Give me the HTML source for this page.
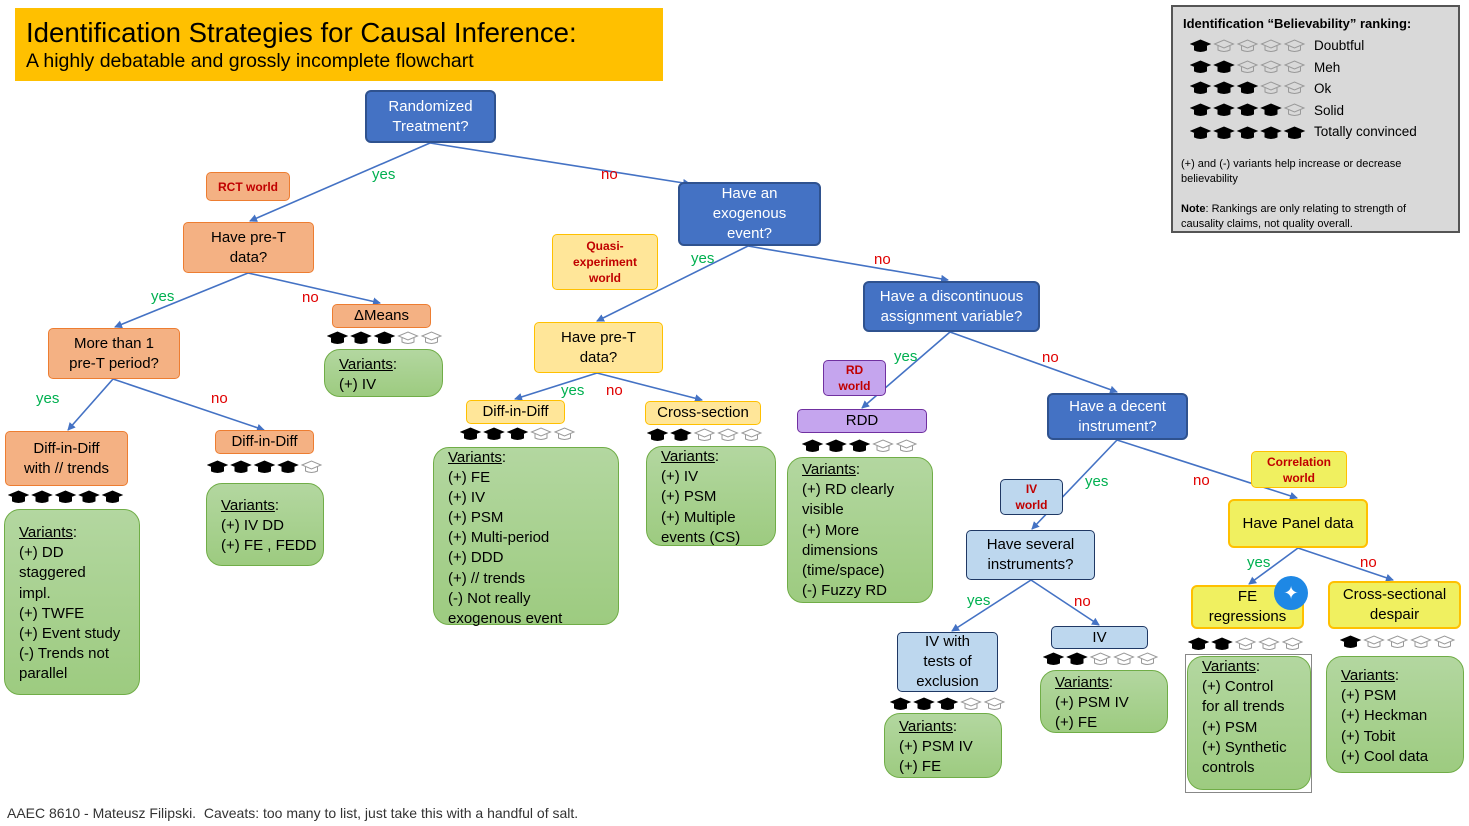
<!DOCTYPE html>
<html><head><meta charset="utf-8">
<style>
body{margin:0;width:1469px;height:826px;background:#fff;position:relative;overflow:hidden;font-family:"Liberation Sans",Arial,sans-serif;}
.b{position:absolute;box-sizing:border-box;display:flex;align-items:center;justify-content:center;text-align:center;line-height:20px;font-size:15px;}
.blue{background:#4472C4;border:2px solid #2F528F;color:#fff;border-radius:6px;}
.sal{background:#F4B183;border:1.5px solid #ED7D31;color:#000;border-radius:5px;}
.yel{background:#FFE699;border:1.5px solid #FFC000;color:#000;border-radius:5px;}
.pur{background:#C5A5EE;border:1.5px solid #7030A0;color:#000;border-radius:5px;}
.lb{background:#BDD7EE;border:1.5px solid #1F3864;color:#000;border-radius:5px;}
.y2{background:#F0F060;border:2px solid #FFC000;color:#000;border-radius:6px;}
.w{color:#C00000;font-weight:bold;font-size:12px;line-height:16px;}
.v{position:absolute;box-sizing:border-box;background:linear-gradient(#B3D7A0,#9DCB80);border:1px solid #70AD47;border-radius:16px;padding:0 14px;font-size:15px;line-height:20.2px;color:#000;white-space:nowrap;}
.v u{text-decoration:underline;}
.l{position:absolute;font-size:15px;}
.g{color:#00B050;}.r{color:#E00000;}
.hats{position:absolute;}
</style></head><body>
<svg width="1469" height="826" style="position:absolute;left:0;top:0">
<defs><marker id="a" markerWidth="8" markerHeight="8" refX="7" refY="4" orient="auto" markerUnits="userSpaceOnUse"><path d="M0,0 L8,4 L0,8z" fill="#4472C4"/></marker></defs>
<g stroke="#4472C4" stroke-width="1.6" fill="none" marker-end="url(#a)">
<line x1="430" y1="143" x2="250" y2="221"/>
<line x1="430" y1="143" x2="690" y2="184"/>
<line x1="248" y1="273" x2="115" y2="327"/>
<line x1="248" y1="273" x2="380" y2="303"/>
<line x1="113" y1="379" x2="68" y2="430"/>
<line x1="113" y1="379" x2="264" y2="430"/>
<line x1="748" y1="246" x2="597" y2="321"/>
<line x1="748" y1="246" x2="948" y2="280"/>
<line x1="597" y1="373" x2="515" y2="399"/>
<line x1="597" y1="373" x2="702" y2="400"/>
<line x1="950" y1="332" x2="862" y2="408"/>
<line x1="950" y1="332" x2="1117" y2="392"/>
<line x1="1117" y1="440" x2="1032" y2="529"/>
<line x1="1117" y1="440" x2="1297" y2="498"/>
<line x1="1031" y1="580" x2="952" y2="631"/>
<line x1="1031" y1="580" x2="1099" y2="625"/>
<line x1="1298" y1="548" x2="1249" y2="584"/>
<line x1="1298" y1="548" x2="1393" y2="580"/>
</g></svg>

<div class="b" style="left:15px;top:8px;width:648px;height:73px;background:#FFC000;display:block;text-align:left;padding:8px 11px;">
<div style="font-size:27.6px;line-height:34px;">Identification Strategies for Causal Inference:</div>
<div style="font-size:19.5px;line-height:22px;">A highly debatable and grossly incomplete flowchart</div></div>

<div class="b blue" style="left:365px;top:90px;width:131px;height:53px;">Randomized<br>Treatment?</div>
<div class="b sal w" style="left:206px;top:172px;width:84px;height:29px;">RCT world</div>
<div class="b sal" style="left:183px;top:222px;width:131px;height:51px;">Have pre-T<br>data?</div>
<div class="b sal" style="left:48px;top:328px;width:132px;height:51px;">More than 1<br>pre-T period?</div>
<div class="b sal" style="left:332px;top:304px;width:99px;height:24px;">ΔMeans</div>
<div class="v" style="left:324px;top:349px;width:119px;height:48px;padding-top:5px;"><u>Variants</u>:<br>(+) IV</div>
<div class="b sal" style="left:5px;top:431px;width:123px;height:55px;">Diff-in-Diff<br>with // trends</div>
<div class="v" style="left:4px;top:509px;width:136px;height:186px;padding-top:13px;"><u>Variants</u>:<br>(+) DD<br>staggered<br>impl.<br>(+) TWFE<br>(+) Event study<br>(-) Trends not<br>parallel</div>
<div class="b sal" style="left:215px;top:430px;width:99px;height:24px;">Diff-in-Diff</div>
<div class="v" style="left:206px;top:483px;width:118px;height:83px;padding-top:12px;"><u>Variants</u>:<br>(+) IV DD<br>(+) FE , FEDD</div>

<div class="b blue" style="left:678px;top:182px;width:143px;height:64px;">Have an<br>exogenous<br>event?</div>
<div class="b yel w" style="left:552px;top:234px;width:106px;height:56px;">Quasi-<br>experiment<br>world</div>
<div class="b yel" style="left:534px;top:322px;width:129px;height:51px;">Have pre-T<br>data?</div>
<div class="b yel" style="left:466px;top:400px;width:99px;height:24px;">Diff-in-Diff</div>
<div class="v" style="left:433px;top:447px;width:186px;height:178px;padding-top:0;line-height:20.1px;"><u>Variants</u>:<br>(+) FE<br>(+) IV<br>(+) PSM<br>(+) Multi-period<br>(+) DDD<br>(+) // trends<br>(-) Not really<br>exogenous event</div>
<div class="b yel" style="left:645px;top:401px;width:116px;height:24px;">Cross-section</div>
<div class="v" style="left:646px;top:446px;width:130px;height:100px;padding-top:0;"><u>Variants</u>:<br>(+) IV<br>(+) PSM<br>(+) Multiple<br>events (CS)</div>

<div class="b blue" style="left:863px;top:281px;width:177px;height:51px;">Have a discontinuous<br>assignment variable?</div>
<div class="b pur w" style="left:823px;top:360px;width:63px;height:36px;">RD<br>world</div>
<div class="b pur" style="left:797px;top:409px;width:130px;height:24px;">RDD</div>
<div class="v" style="left:787px;top:457px;width:146px;height:146px;padding-top:2px;"><u>Variants</u>:<br>(+) RD clearly<br>visible<br>(+) More<br>dimensions<br>(time/space)<br>(-) Fuzzy RD</div>

<div class="b blue" style="left:1047px;top:393px;width:141px;height:47px;">Have a decent<br>instrument?</div>
<div class="b lb w" style="left:1000px;top:479px;width:63px;height:36px;">IV<br>world</div>
<div class="b lb" style="left:966px;top:530px;width:129px;height:50px;">Have several<br>instruments?</div>
<div class="b lb" style="left:897px;top:632px;width:101px;height:60px;">IV with<br>tests of<br>exclusion</div>
<div class="v" style="left:884px;top:713px;width:118px;height:65px;padding-top:3px;"><u>Variants</u>:<br>(+) PSM IV<br>(+) FE</div>
<div class="b lb" style="left:1051px;top:626px;width:97px;height:23px;">IV</div>
<div class="v" style="left:1040px;top:670px;width:128px;height:63px;padding-top:2px;"><u>Variants</u>:<br>(+) PSM IV<br>(+) FE</div>

<div class="b w" style="left:1251px;top:451px;width:96px;height:37px;background:#F0F060;border:1.5px solid #FFC000;border-radius:5px;">Correlation<br>world</div>
<div class="b y2" style="left:1228px;top:499px;width:140px;height:49px;">Have Panel data</div>
<div class="b y2" style="left:1191px;top:585px;width:113px;height:44px;">FE<br>regressions</div>
<div style="position:absolute;left:1274px;top:576px;width:34px;height:34px;border-radius:50%;background:#1E88E5;color:#fff;font-size:18px;text-align:center;line-height:34px;">✦</div>
<div class="v" style="left:1187px;top:656px;width:124px;height:134px;padding:0 14px;"><u>Variants</u>:<br>(+) Control<br>for all trends<br>(+) PSM<br>(+) Synthetic<br>controls</div>
<div style="position:absolute;left:1185px;top:654px;width:125px;height:137px;border:1px solid #888;"></div>
<div class="b y2" style="left:1328px;top:581px;width:133px;height:48px;">Cross-sectional<br>despair</div>
<div class="v" style="left:1326px;top:656px;width:138px;height:117px;padding-top:9px;"><u>Variants</u>:<br>(+) PSM<br>(+) Heckman<br>(+) Tobit<br>(+) Cool data</div>

<div class="l g" style="left:372px;top:166px;">yes</div><div class="l r" style="left:601px;top:166px;">no</div>
<div class="l g" style="left:151px;top:288px;">yes</div><div class="l r" style="left:302px;top:289px;">no</div>
<div class="l g" style="left:36px;top:390px;">yes</div><div class="l r" style="left:211px;top:390px;">no</div>
<div class="l g" style="left:691px;top:250px;">yes</div><div class="l r" style="left:874px;top:251px;">no</div>
<div class="l g" style="left:561px;top:382px;">yes</div><div class="l r" style="left:606px;top:382px;">no</div>
<div class="l g" style="left:894px;top:348px;">yes</div><div class="l r" style="left:1042px;top:349px;">no</div>
<div class="l g" style="left:1085px;top:473px;">yes</div><div class="l r" style="left:1193px;top:472px;">no</div>
<div class="l g" style="left:967px;top:592px;">yes</div><div class="l r" style="left:1074px;top:593px;">no</div>
<div class="l g" style="left:1247px;top:554px;">yes</div><div class="l r" style="left:1360px;top:554px;">no</div>

<div style="position:absolute;left:1171px;top:5px;width:289px;height:228px;box-sizing:border-box;background:#D9D9D9;border:2px solid #555;padding:9px 10px;font-size:11px;line-height:15px;">
<div style="font-size:13px;font-weight:bold;margin-bottom:5px;">Identification “Believability” ranking:</div>
<div style="position:absolute;left:141px;top:28px;font-size:13.5px;line-height:21.5px;">Doubtful<br>Meh<br>Ok<br>Solid<br>Totally convinced</div>
<div style="position:absolute;left:8px;top:150px;width:270px;">(+) and (-) variants help increase or decrease believability<br><br><b>Note</b>: Rankings are only relating to strength of causality claims, not quality overall.</div>
</div>

<div style="position:absolute;left:7px;top:805px;font-size:14px;color:#333;">AAEC 8610 - Mateusz Filipski.&nbsp; Caveats: too many to list, just take this with a handful of salt.</div>

<div id="h"></div>
<script>
var rows=[[327,331,3],[8,490,5],[207,460,4],[460,427,3],[647,428,2],[802,439,3],[890,697,3],[1043,652,2],[1188,637,2],[1340,635,1],
[1190,39,1],[1190,60,2],[1190,81,3],[1190,103,4],[1190,126,5]];
var s='';
rows.forEach(function(r){
 s+='<svg class="hats" style="left:'+r[0]+'px;top:'+r[1]+'px" width="120" height="14">';
 for(var i=0;i<5;i++){var x=i*23.5;var f=i<r[2];
  s+='<g transform="translate('+x+',0)" '+(f?'fill="#000" stroke="#000"':'fill="none" stroke="#999"')+' stroke-width="1"><path d="M1,5 L10.5,1 L20,5 L10.5,9z"/><path d="M4.5,7 L4.5,11 Q10.5,14 16.5,11 L16.5,7"/></g>';}
 s+='</svg>';});
document.getElementById('h').innerHTML=s;
</script>
</body></html>
